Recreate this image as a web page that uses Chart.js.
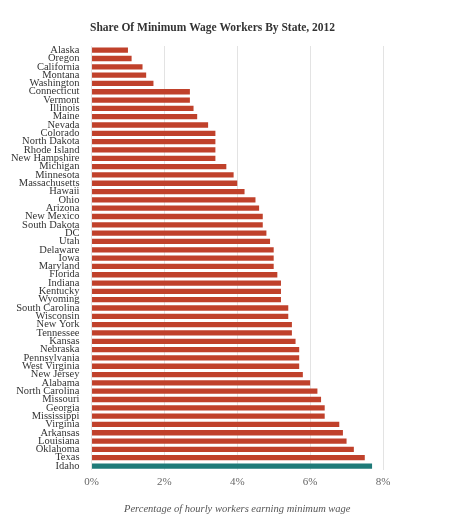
<!DOCTYPE html>
<html><head><meta charset="utf-8">
<script src="https://cdn.jsdelivr.net/npm/chart.js@4"></script>
<style>html,body{margin:0;background:#fff}#w{width:474px;height:532px}</style>
</head><body><div id="w"><canvas id="c"></canvas></div>
<script>
const states=["Alaska","Oregon","California","Montana","Washington","Connecticut","Vermont","Illinois","Maine","Nevada","Colorado","North Dakota","Rhode Island","New Hampshire","Michigan","Minnesota","Massachusetts","Hawaii","Ohio","Arizona","New Mexico","South Dakota","DC","Utah","Delaware","Iowa","Maryland","Florida","Indiana","Kentucky","Wyoming","South Carolina","Wisconsin","New York","Tennessee","Kansas","Nebraska","Pennsylvania","West Virginia","New Jersey","Alabama","North Carolina","Missouri","Georgia","Mississippi","Virginia","Arkansas","Louisiana","Oklahoma","Texas","Idaho"];
const shares=[1.0,1.1,1.4,1.5,1.7,2.7,2.7,2.8,2.9,3.2,3.4,3.4,3.4,3.4,3.7,3.9,4.0,4.2,4.5,4.6,4.7,4.7,4.8,4.9,5.0,5.0,5.0,5.1,5.2,5.2,5.2,5.4,5.4,5.5,5.5,5.6,5.7,5.7,5.7,5.8,6.0,6.2,6.3,6.4,6.4,6.8,6.9,7.0,7.2,7.5,7.7];
const xTicks=[0,2,4,6,8];
const highlight="Idaho";
const titleText='Share Of Minimum Wage Workers By State, 2012';
const titlePlugin={id:'t',afterDraw(ch){const c=ch.ctx;c.save();c.font='bold 11.5px "Liberation Serif"';c.fillStyle='#333';c.textBaseline='middle';c.fillText(titleText,90,28);c.restore();}};
new Chart(document.getElementById('c'),{type:'bar',
data:{labels:states,datasets:[{data:shares,backgroundColor:states.map(s=>s===highlight?'#1f7a78':'#c0412b'),categoryPercentage:0.75,barPercentage:0.85}]},
options:{indexAxis:'y',responsive:true,maintainAspectRatio:false,animation:false,
layout:{padding:{left:7,right:91,top:46,bottom:12}},
plugins:{legend:{display:false},tooltip:{enabled:false},title:{display:false}},
scales:{x:{min:0,max:8,afterBuildTicks:a=>{a.ticks=xTicks.map(v=>({value:v}))},
grid:{color:'#e3e3e3',drawTicks:false},border:{display:false},
ticks:{color:'#666',padding:5,font:{family:'Liberation Serif',size:11},callback:v=>v+'%'},
title:{display:true,text:'Percentage of hourly workers earning minimum wage',color:'#555',font:{family:'Liberation Serif',size:10.5,style:'italic'},padding:{top:10}}},
y:{grid:{display:false},border:{display:false},ticks:{autoSkip:false,color:'#333',padding:4,font:{family:'Liberation Serif',size:10.5}}}}},
plugins:[titlePlugin]});
</script></body></html>
